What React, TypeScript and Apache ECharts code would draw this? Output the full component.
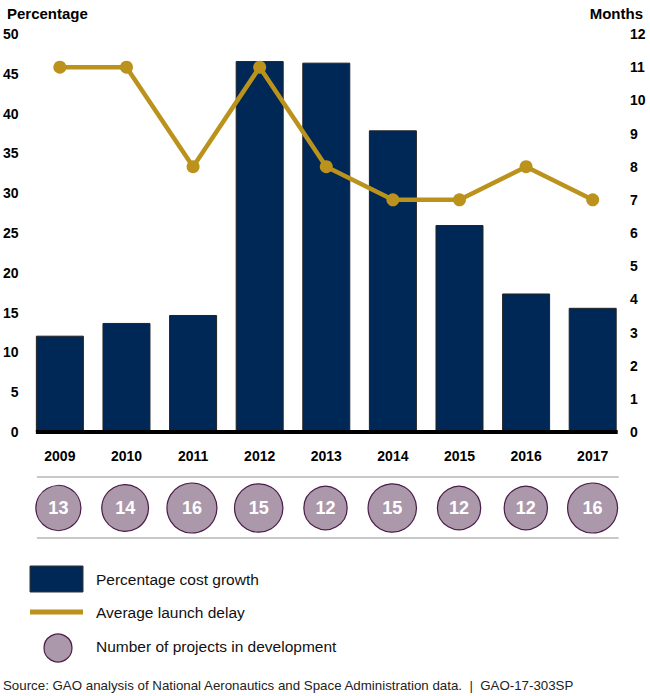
import React, { useEffect, useRef } from "react";
import * as echarts from "echarts";

const years = ["2009", "2010", "2011", "2012", "2013", "2014", "2015", "2016", "2017"];
const costGrowth = [12.1, 13.7, 14.7, 46.6, 46.4, 37.9, 26.0, 17.4, 15.6];
const launchDelay = [11, 11, 8, 11, 8, 7, 7, 8, 7];
const projects = [13, 14, 16, 15, 12, 15, 12, 12, 16];
const leftAxis = { name: "Percentage", min: 0, max: 50, interval: 5 };
const rightAxis = { name: "Months", min: 0, max: 12, interval: 1 };
const legendLabels = ["Percentage cost growth", "Average launch delay", "Number of projects in development"];
const sourceText = "Source: GAO analysis of National Aeronautics and Space Administration data.  |  GAO-17-303SP";

const NAVY = "#002856";
const GOLD = "#BA921C";
const PURPLE = "#AC98AB";
const PURPLE_EDGE = "#4A1C48";
const FONT = "Liberation Sans";

export default function App() {
  const ref = useRef<HTMLDivElement>(null);
  useEffect(() => {
    document.body.style.margin = "0";
    if (!ref.current) return;
    const chart = echarts.init(ref.current, null, { renderer: "svg" });
    const gridL = 25;
    const gridR = 24;
    const tick = { fontFamily: FONT, fontSize: 14, fontWeight: "bold", color: "#000" };
    const option: any = {
      animation: false,
      backgroundColor: "#ffffff",
      textStyle: { fontFamily: FONT },
      title: [
        { text: leftAxis.name, left: 2, top: 1, textStyle: { fontFamily: FONT, fontSize: 15, fontWeight: "bold", color: "#000" } },
        { text: rightAxis.name, right: 2, top: 1, textStyle: { fontFamily: FONT, fontSize: 15, fontWeight: "bold", color: "#000" } },
      ],
      grid: [
        { left: gridL, right: gridR, top: 34, height: 398 },
        { left: gridL, right: gridR, top: 478, height: 60 },
      ],
      xAxis: [
        {
          type: "category",
          data: years,
          gridIndex: 0,
          axisLine: { show: false },
          axisTick: { show: false },
          axisLabel: { margin: 17, ...tick },
        },
        {
          type: "category",
          data: years,
          gridIndex: 1,
          axisLine: { show: false },
          axisTick: { show: false },
          axisLabel: { show: false },
        },
      ],
      yAxis: [
        {
          type: "value",
          gridIndex: 0,
          min: leftAxis.min,
          max: leftAxis.max,
          interval: leftAxis.interval,
          splitLine: { show: false },
          axisLine: { show: false },
          axisTick: { show: false },
          axisLabel: { margin: 8, ...tick },
        },
        {
          type: "value",
          gridIndex: 0,
          position: "right",
          min: rightAxis.min,
          max: rightAxis.max,
          interval: rightAxis.interval,
          splitLine: { show: false },
          axisLine: { show: false },
          axisTick: { show: false },
          axisLabel: { margin: 4, ...tick },
        },
        {
          type: "value",
          gridIndex: 1,
          min: 0,
          max: 2,
          show: false,
        },
      ],
      series: [
        {
          name: legendLabels[0],
          type: "bar",
          xAxisIndex: 0,
          yAxisIndex: 0,
          data: costGrowth,
          barWidth: 48,
          itemStyle: { color: NAVY, borderColor: "#222", borderWidth: 1 },
        },
        {
          name: legendLabels[1],
          type: "line",
          xAxisIndex: 0,
          yAxisIndex: 1,
          data: launchDelay,
          symbol: "circle",
          symbolSize: 13,
          lineStyle: { color: GOLD, width: 4.5 },
          itemStyle: { color: GOLD },
          z: 5,
        },
        {
          name: legendLabels[2],
          type: "scatter",
          xAxisIndex: 1,
          yAxisIndex: 2,
          data: projects.map((n, i) => [years[i], 1, n]),
          symbolSize: (v: any) => 50 * Math.sqrt(v[2] / 16),
          itemStyle: { color: PURPLE, borderColor: PURPLE_EDGE, borderWidth: 1.2, opacity: 1 },
          label: {
            show: true,
            position: "inside",
            formatter: (p: any) => String(p.value[2]),
            color: "#fff",
            fontFamily: FONT,
            fontSize: 18,
            fontWeight: "bold",
          },
        },
      ],
    };
    chart.setOption(option);

    const xFirst = chart.convertToPixel({ xAxisIndex: 0 }, years[0]) as number;
    const xLast = chart.convertToPixel({ xAxisIndex: 0 }, years[years.length - 1]) as number;
    const yZero = chart.convertToPixel({ yAxisIndex: 0 }, 0) as number;
    const g1Top = 478;
    const g1Bottom = 538;
    const lx0 = xFirst - 24;
    const lx1 = xLast + 25;

    chart.setOption({
      graphic: [
        { type: "line", shape: { x1: lx0, y1: yZero, x2: lx1, y2: yZero }, style: { stroke: "#000", lineWidth: 4 }, z: 10 },
        { type: "line", shape: { x1: lx0 + 1, y1: g1Top - 1, x2: lx1 + 1, y2: g1Top - 1 }, style: { stroke: "#C8C8C8", lineWidth: 2 } },
        { type: "line", shape: { x1: lx0 + 1, y1: g1Bottom, x2: lx1 + 1, y2: g1Bottom }, style: { stroke: "#C8C8C8", lineWidth: 2 } },
        { type: "rect", shape: { x: 30, y: 566, width: 53, height: 26 }, style: { fill: NAVY, stroke: "#333", lineWidth: 1 } },
        { type: "line", shape: { x1: 30, y1: 612, x2: 83, y2: 612 }, style: { stroke: GOLD, lineWidth: 5 } },
        { type: "circle", shape: { cx: 58, cy: 648, r: 14 }, style: { fill: PURPLE, stroke: PURPLE_EDGE, lineWidth: 1.2 } },
        { type: "text", x: 96, y: 579, style: { text: legendLabels[0], fontFamily: FONT, fontSize: 15.5, fill: "#111", verticalAlign: "middle" } },
        { type: "text", x: 96, y: 612, style: { text: legendLabels[1], fontFamily: FONT, fontSize: 15.5, fill: "#111", verticalAlign: "middle" } },
        { type: "text", x: 96, y: 646, style: { text: legendLabels[2], fontFamily: FONT, fontSize: 15.5, fill: "#111", verticalAlign: "middle" } },
        { type: "text", x: 3, y: 685, style: { text: sourceText, fontFamily: FONT, fontSize: 13.3, fill: "#222", verticalAlign: "middle" } },
      ],
    });

    return () => chart.dispose();
  }, []);
  return <div ref={ref} style={{ width: 650, height: 696 }} />;
}
